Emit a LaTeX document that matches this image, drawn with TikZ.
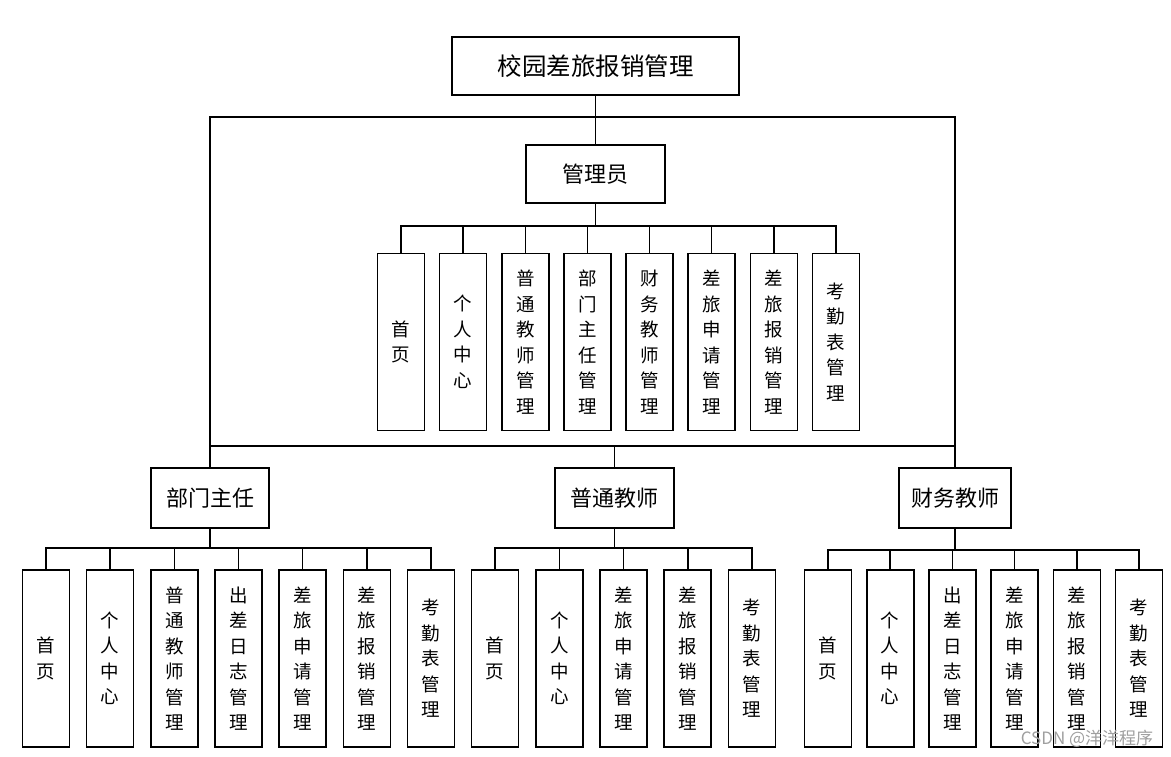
\documentclass[tikz,border=0pt]{standalone}
\usepackage{fontspec}
\usepackage{tikz}
\newfontfamily\cjk{Noto Sans CJK SC}

\begin{document}
\begin{tikzpicture}[x=1pt, y=-1pt,
		box/.style={draw, line width=1.6pt, fill=white, inner sep=0pt},
		topbox/.style={box, minimum width=287, minimum height=58, font=\cjk\fontsize{24.5}{28}\selectfont},
		rolebox/.style={box, minimum height=60, font=\cjk\fontsize{22}{26}\selectfont},
		leafbox/.style={box, minimum width=47, minimum height=177, align=center, font=\cjk\fontsize{18.5}{25.5}\selectfont},
		link/.style={line width=1.5pt}]
			\useasboundingbox (0,0) rectangle (1171,757);

			% top levels
			\node[topbox] (root) at (595.5,66) {校园差旅报销管理};
			\node[rolebox, minimum width=139, minimum height=58] (admin) at (595.5,174) {管理员};
			\node[rolebox, minimum width=118] (dept) at (210,498) {部门主任};
			\node[rolebox, minimum width=119] (teach) at (614.5,498) {普通教师};
			\node[rolebox, minimum width=112] (fin) at (955,498) {财务教师};

			\coordinate (topbus) at (595.5,117);
			\coordinate (midbus) at (614.5,446);
			\coordinate (abus) at (0,226);
			\coordinate (dbus) at (0,548);
			\coordinate (fbus) at (0,550);

			\draw[link] (root.south) -- (admin.north);
			\draw[link] (dept.north) -- (dept.north |- topbus) -- (fin.north |- topbus) -- (fin.north);
			\draw[link] (dept.north |- midbus) -- (fin.north |- midbus);
			\draw[link] (midbus) -- (teach.north);

			% admin pages
			\foreach \i/\t in {0/{首\\页}, 1/{个\\人\\中\\心}, 2/{普\\通\\教\\师\\管\\理}, 3/{部\\门\\主\\任\\管\\理},
				4/{财\\务\\教\\师\\管\\理}, 5/{差\\旅\\申\\请\\管\\理}, 6/{差\\旅\\报\\销\\管\\理}, 7/{考\\勤\\表\\管\\理}}
			{
				\node[leafbox] (a\i) at (401+62.14*\i, 342) {\t};
				\draw[link] (admin.south) -- (admin.south |- abus) -| (a\i.north);
			}

			% department head pages
			\foreach \i/\t in {0/{首\\页}, 1/{个\\人\\中\\心}, 2/{普\\通\\教\\师\\管\\理}, 3/{出\\差\\日\\志\\管\\理},
				4/{差\\旅\\申\\请\\管\\理}, 5/{差\\旅\\报\\销\\管\\理}, 6/{考\\勤\\表\\管\\理}}
			{
				\node[leafbox] (d\i) at (46+64.17*\i, 658.5) {\t};
				\draw[link] (dept.south) -- (dept.south |- dbus) -| (d\i.north);
			}

			% teacher pages
			\foreach \i/\t in {0/{首\\页}, 1/{个\\人\\中\\心}, 2/{差\\旅\\申\\请\\管\\理},
				3/{差\\旅\\报\\销\\管\\理}, 4/{考\\勤\\表\\管\\理}}
			{
				\node[leafbox] (t\i) at (495+64.25*\i, 658.5) {\t};
				\draw[link] (teach.south) -- (teach.south |- dbus) -| (t\i.north);
			}

			% finance pages
			\foreach \i/\t in {0/{首\\页}, 1/{个\\人\\中\\心}, 2/{出\\差\\日\\志\\管\\理},
				3/{差\\旅\\申\\请\\管\\理}, 4/{差\\旅\\报\\销\\管\\理}, 5/{考\\勤\\表\\管\\理}}
			{
				\node[leafbox] (f\i) at (828+62.2*\i, 658.5) {\t};
				\draw[link] (fin.south) -- (fin.south |- fbus) -| (f\i.north);
			}

			\node[font=\cjk\fontsize{17}{19}\selectfont, text=gray!75] (mark) at (1087,739) {CSDN @洋洋程序};
		\end{tikzpicture}
\end{document}
